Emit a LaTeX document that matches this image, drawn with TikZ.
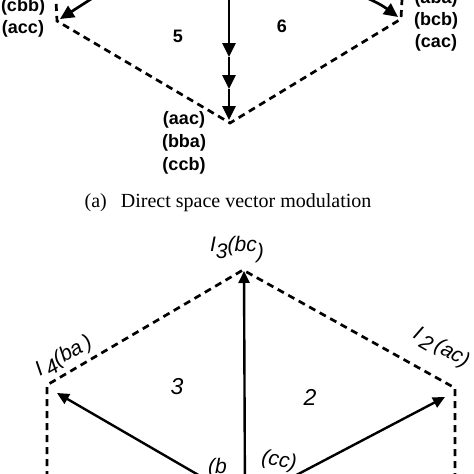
\documentclass[tikz,border=0pt]{standalone}
\usepackage{fontspec}
\setmainfont{Liberation Serif}
\setsansfont{Liberation Sans}
\usetikzlibrary{arrows.meta}
\begin{document}
\begin{tikzpicture}[x=1pt,y=-1pt,
  lbl/.style={font=\sffamily\bfseries\fontsize{18}{20}\selectfont, inner sep=0pt},
  ilbl/.style={font=\sffamily\itshape\fontsize{21}{24}\selectfont, inner sep=0pt},
  nlbl/.style={font=\sffamily\itshape\fontsize{23}{26}\selectfont, inner sep=0pt},
  dsh/.style={line width=2.7pt, dash pattern=on 7pt off 5pt},
  vec/.style={line width=2.7pt, -{Triangle[length=14pt,width=13pt]}},
  vecb/.style={line width=2.4pt, -{Triangle[length=12pt,width=11pt]}}]
\useasboundingbox (0,0) rectangle (474,474);
\clip (0,0) rectangle (474,474);
% ---------- (a) ----------
\coordinate (L) at (57,21);
\coordinate (R) at (401,19);
\coordinate (B) at (230,123);
\coordinate (Ltop) at (55,-20);
\coordinate (Rtop) at (403,-20);
\coordinate (Ct) at (229,-20);
\coordinate (m1) at (229,57);
\coordinate (m2) at (229,89);
\coordinate (m3) at (229,120);
\coordinate (La) at (102,-8);
\coordinate (Lend) at (60,19);
\coordinate (Ra) at (352,-8);
\coordinate (Rend) at (398,17);
\draw[dsh] (Ltop) -- (L) -- (B) -- (R) -- (Rtop);
\draw[vec] (Ct) -- (m1);
\draw[vec] (m1) -- (m2);
\draw[vec] (m2) -- (m3);
\draw[vec] (La) -- (Lend);
\draw[vec] (Ra) to[bend left=8] (Rend);
\node[lbl] (cbb) at (23,7) {(cbb)};
\node[lbl] (acc) at (23,29) {(acc)};
\node[lbl] (aba) at (436,-1) {(aba)};
\node[lbl] (bcb) at (436,21) {(bcb)};
\node[lbl] (cac) at (436,43) {(cac)};
\node[lbl] (aac) at (184,120) {(aac)};
\node[lbl] (bba) at (184,143) {(bba)};
\node[lbl] (ccb) at (184,166) {(ccb)};
\node[lbl] (s5) at (178,36) {5};
\node[lbl] (s6) at (282,26) {6};
\node[font=\fontsize{20}{24}\selectfont, inner sep=0pt] (cap) at (228,203) {(a)\hspace{14pt}Direct space vector modulation};
% ---------- (b) ----------
\coordinate (I3) at (243,270);
\coordinate (I4) at (47,385);
\coordinate (I2) at (455,388);
\coordinate (O) at (245,502);
\coordinate (I4b) at (47,490);
\coordinate (I2b) at (455,490);
\coordinate (I3a) at (244,271);
\coordinate (I4a) at (57,393);
\coordinate (I2a) at (445,397);
\draw[dsh] (I4b) -- (I4) -- (I3) -- (I2) -- (I2b);
\draw[vecb] (O) -- (I3a);
\draw[vecb] (O) -- (I4a);
\draw[vecb] (O) -- (I2a);
\node[ilbl] (l3) at (237,250) {I\raisebox{-7pt}{3}(bc\raisebox{-7pt}{)}};
\node[ilbl, rotate=30] (l4) at (64,357) {I\,\raisebox{-5pt}{4}(ba\,)};
\node[ilbl, rotate=-30] (l2) at (441,348) {I\,\raisebox{-5pt}{2}\,(ac)};
\node[nlbl] (s3) at (177,387) {3};
\node[nlbl] (s2) at (310,397) {2};
\node[ilbl, anchor=west] (lbb) at (208,468) {(b};
\node[ilbl, rotate=-10] (lcc) at (279,461) {(cc)};
\end{tikzpicture}
\end{document}
